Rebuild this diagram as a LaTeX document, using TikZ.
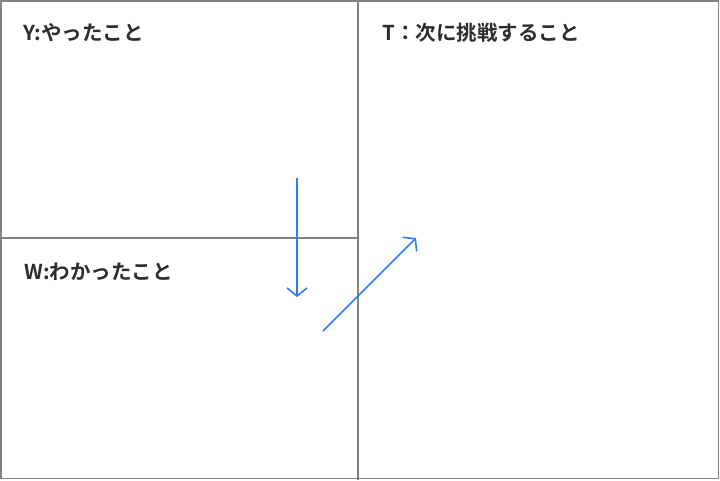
\documentclass[tikz,border=0pt]{standalone}
\usepackage{fontspec}
\newfontfamily\jpfont{Noto Sans CJK JP Bold}
\usetikzlibrary{arrows.meta}
\definecolor{framegray}{RGB}{130,130,130}
\definecolor{textgray}{RGB}{45,45,45}
\definecolor{arrowblue}{RGB}{45,125,245}

\begin{document}
\begin{tikzpicture}[x=1pt,y=-1pt,>={Straight Barb[length=8pt,width=20pt]},
                    semithick]
  \tikzstyle{frame}=[draw=framegray,line width=1.2pt]
  \tikzstyle{label}=[anchor=west,inner sep=0pt,text=textgray,font=\jpfont\fontsize{20.5}{24}\selectfont]
  \tikzstyle{flow}=[->,draw=arrowblue,line width=1.6pt]

  \useasboundingbox (0,0) rectangle (720,480);
  \draw[frame] (1,1) rectangle (718.5,478.5);
  \draw[frame] (358,0) -- (358,480);
  \draw[frame] (0,238) -- (358,238);

  \node[label] (Y) at (23,33)  {Y:やったこと};
  \node[label] (W) at (24,272) {W:わかったこと};
  \node[label] (T) at (382,33) {T：次に挑戦すること};

  \coordinate (Ys) at (297,178);
  \coordinate (We) at (297,297);
  \coordinate (Ws) at (323,331);
  \coordinate (Te) at (416,238);

  \path (Ys) edge[flow] (We)
        (Ws) edge[flow] (Te);
\end{tikzpicture}
\end{document}
